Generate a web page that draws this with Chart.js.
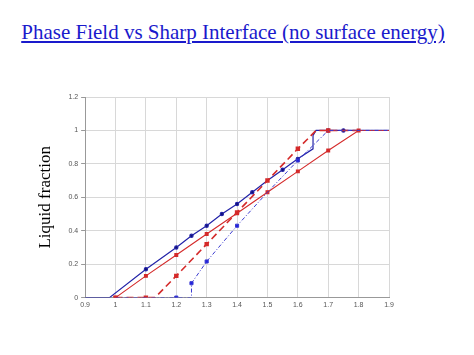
<!DOCTYPE html>
<html><head><meta charset="utf-8">
<script src="https://cdn.jsdelivr.net/npm/chart.js@4/dist/chart.umd.min.js"></script>
<style>
html,body{margin:0;padding:0;background:#fff;}
#wrap{position:relative;width:474px;height:355px;}
#title{position:absolute;left:0;top:20px;width:466px;text-align:center;font-family:"Liberation Serif","Times New Roman",serif;font-size:21px;color:#1a1acc;text-decoration:underline;white-space:nowrap;}
canvas{position:absolute;left:0;top:0;}
</style></head>
<body><div id="wrap"><div id="title">Phase Field vs Sharp Interface (no surface energy)</div><canvas id="c" width="474" height="355"></canvas></div>
<script>
const xTicks = [0.9,1.0,1.1,1.2,1.3,1.4,1.5,1.6,1.7,1.8,1.9];
const yTicks = [0,0.2,0.4,0.6,0.8,1.0,1.2];
// Blue solid
const blueSolidX = [0.9,0.98,1.1,1.2,1.25,1.3,1.35,1.4,1.45,1.5,1.55,1.6,1.65,1.65,1.66,1.7,1.75,1.8,1.9];
const blueSolidY = [0,0,0.17,0.30,0.37,0.43,0.50,0.56,0.63,0.70,0.765,0.83,0.89,0.97,1.0,1.0,1.0,1.0,1.0];
const blueSolidMark = [0,0,1,1,1,1,1,1,1,0,1,1,0,0,0,1,1,0,0];
// Red solid
const redSolidX = [1.0,1.1,1.2,1.3,1.4,1.5,1.6,1.7,1.8,1.9];
const redSolidY = [0,0.13,0.255,0.38,0.505,0.63,0.755,0.88,1.0,1.0];
const redSolidMark = [1,1,1,1,1,1,1,1,1,0];
// Red dashed
const redDashX = [1.0,1.1,1.13,1.2,1.3,1.4,1.5,1.6,1.66,1.7,1.8];
const redDashY = [0,0,0,0.13,0.32,0.51,0.70,0.89,1.0,1.0,1.0];
const redDashMark = [1,1,0,1,1,1,1,1,0,1,0];
// Blue dash-dot
const blueDotX = [1.0,1.2,1.25,1.25,1.3,1.4,1.5,1.6,1.65,1.7,1.9];
const blueDotY = [0,0,0,0.086,0.216,0.43,0.63,0.82,0.91,1.0,1.0];
const blueDotMark = [0,1,0,1,1,1,0,1,0,0,0];

const BLUE = '#2323a8', RED = '#d42a2a';
function pts(xs, ys){ return xs.map((x,i)=>({x:x,y:ys[i]})); }

new Chart(document.getElementById('c'), {
  type:'line',
  data:{datasets:[
    {data:pts(blueDotX,blueDotY), borderColor:'#3a3ad0', backgroundColor:'#2020e0', borderWidth:1, borderDash:[4,2,1,2],
     pointStyle:'rect', pointRadius:blueDotMark.map(m=>m?2.2:0), tension:0},
    {data:pts(redDashX,redDashY), borderColor:RED, backgroundColor:RED, borderWidth:1.6, borderDash:[7,4],
     pointStyle:'rect', pointRadius:redDashMark.map(m=>m?2:0), tension:0},
    {data:pts(redSolidX,redSolidY), borderColor:RED, backgroundColor:RED, borderWidth:1.1,
     pointStyle:'rect', pointRadius:redSolidMark.map(m=>m?2:0), tension:0},
    {data:pts(blueSolidX,blueSolidY), borderColor:BLUE, backgroundColor:'#101070', borderWidth:1.2,
     pointStyle:'circle', pointRadius:blueSolidMark.map(m=>m?1.6:0), tension:0}
  ]},
  options:{
    responsive:false, animation:false,
    layout:{padding:{left:35,right:85,top:97,bottom:43}},
    plugins:{legend:{display:false},tooltip:{enabled:false},title:{display:false}},
    scales:{
      x:{type:'linear', min:0.9, max:1.9,
         afterBuildTicks:(s)=>{s.ticks=xTicks.map(v=>({value:v}));},
         ticks:{font:{family:'"Liberation Sans",Arial,sans-serif',size:7},color:'#555',padding:3,
                callback:(v)=>String(Math.round(v*10)/10)},
         grid:{color:'#d8d8d8',lineWidth:1,tickLength:0,drawTicks:false},
         border:{color:'#999',width:1}},
      y:{min:0, max:1.2,
         afterBuildTicks:(s)=>{s.ticks=yTicks.map(v=>({value:v}));},
         ticks:{font:{family:'"Liberation Sans",Arial,sans-serif',size:7},color:'#555',padding:3,
                callback:(v)=>String(Math.round(v*10)/10)},
         grid:{color:'#d8d8d8',lineWidth:1,tickLength:4,tickColor:'#999'},
         border:{color:'#999',width:1},
         title:{display:true,text:'Liquid fraction',font:{family:'"Liberation Serif","Times New Roman",serif',size:17},color:'#000',padding:{top:0,bottom:10}}}
    }
  }
});
</script></body></html>
